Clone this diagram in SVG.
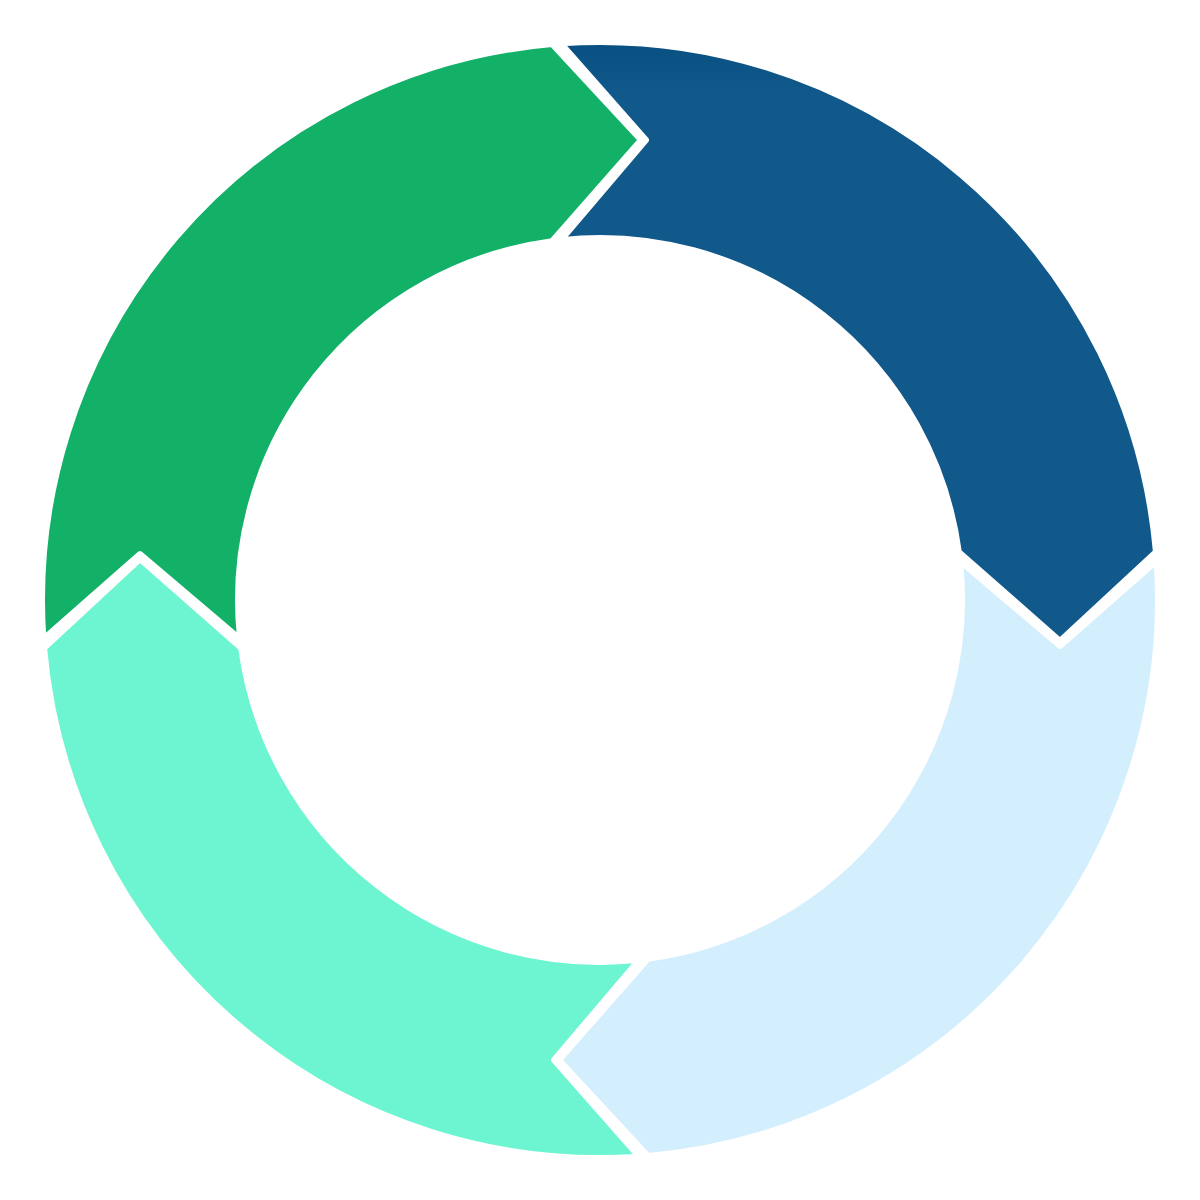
<svg xmlns="http://www.w3.org/2000/svg" width="1200" height="1200" viewBox="0 0 1200 1200">
  <style>
    .seg { stroke: #ffffff; stroke-width: 6; stroke-linejoin: round; }
  </style>
  <defs>
    <linearGradient id="gBlue" gradientUnits="userSpaceOnUse" x1="0" y1="40" x2="0" y2="95">
      <stop offset="0" stop-color="#095082"/>
      <stop offset="1" stop-color="#11598a"/>
    </linearGradient>
    <path id="segShape" d="M 561 43.37 A 558 558 0 0 1 1155.93 552 L 1060 641 L 958.8 552 A 362 362 0 0 0 561 240.11 L 646 140 Z"/>
  </defs>
  <rect width="1200" height="1200" fill="#ffffff"/>
  <g id="segment-top-right">
    <path class="seg" fill="url(#gBlue)" d="M 561 43.37 A 558 558 0 0 1 1155.93 552 L 1060 641 L 958.8 552 A 362 362 0 0 0 561 240.11 L 646 140 Z"/>
  </g>
  <g id="segment-bottom-right">
    <path class="seg" fill="#d3eefd" transform="rotate(90 600 600)" d="M 561 43.37 A 558 558 0 0 1 1155.93 552 L 1060 641 L 958.8 552 A 362 362 0 0 0 561 240.11 L 646 140 Z"/>
  </g>
  <g id="segment-bottom-left">
    <path class="seg" fill="#6df5d1" transform="rotate(180 600 600)" d="M 561 43.37 A 558 558 0 0 1 1155.93 552 L 1060 641 L 958.8 552 A 362 362 0 0 0 561 240.11 L 646 140 Z"/>
  </g>
  <g id="segment-top-left">
    <path class="seg" fill="#13b167" transform="rotate(270 600 600)" d="M 561 43.37 A 558 558 0 0 1 1155.93 552 L 1060 641 L 958.8 552 A 362 362 0 0 0 561 240.11 L 646 140 Z"/>
  </g>
  <g id="connectors"></g>
</svg>
